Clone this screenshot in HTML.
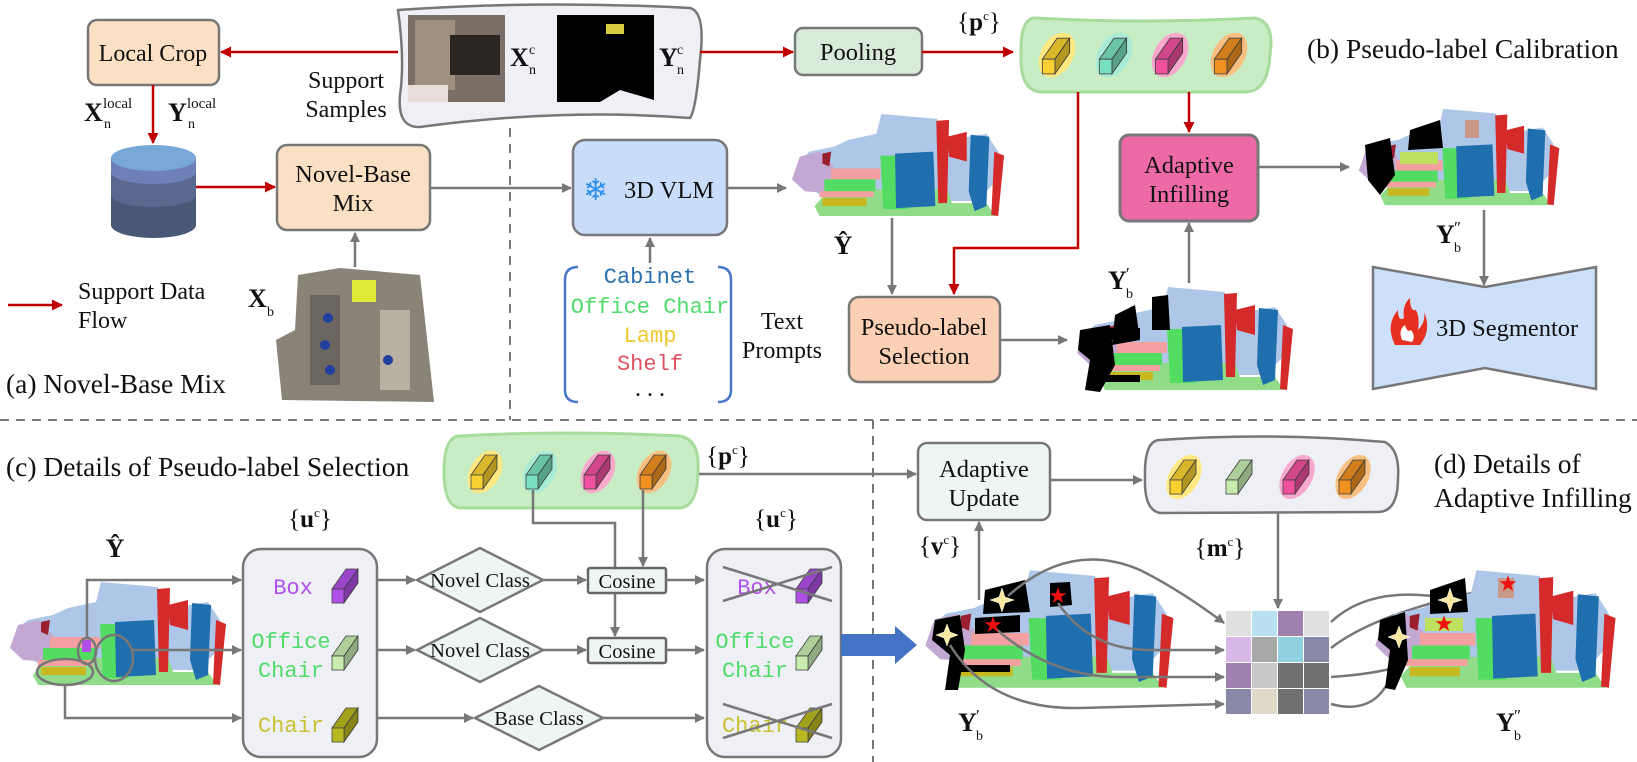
<!DOCTYPE html>
<html><head><meta charset="utf-8"><style>
html,body{margin:0;padding:0;background:#fff}
svg{display:block}
.s{font-family:"Liberation Serif",serif;fill:#111}
.m{font-family:"Liberation Mono",monospace}
</style></head><body>
<svg width="1637" height="762" viewBox="0 0 1637 762" xmlns="http://www.w3.org/2000/svg">
<defs>
<marker id="ag" markerWidth="10" markerHeight="10" refX="9" refY="5" orient="auto" markerUnits="userSpaceOnUse"><path d="M0,0 L10,5 L0,10 z" fill="#777"/></marker>
<marker id="ar" markerWidth="11" markerHeight="11" refX="10" refY="5.5" orient="auto" markerUnits="userSpaceOnUse"><path d="M0,0 L11,5.5 L0,11 z" fill="#c00000"/></marker>
<symbol id="cube" viewBox="0 0 30 40">
<path d="M2,24 L14,24 L28,4 L16,4 Z" fill="currentColor" stroke="#444" stroke-width="0.8"/>
<path d="M2,24 L14,24 L28,4 L16,4 Z" fill="#000" opacity="0.12"/>
<path d="M14,24 L28,4 L28,18 L14,38 Z" fill="currentColor" stroke="#444" stroke-width="0.8"/>
<path d="M14,24 L28,4 L28,18 L14,38 Z" fill="#000" opacity="0.28"/>
<rect x="2" y="24" width="12" height="14" fill="currentColor" stroke="#444" stroke-width="0.8"/>
</symbol>
<symbol id="scene" viewBox="0 0 222 107" preserveAspectRatio="none">
<polygon points="8,50 20,40 45,35 60,28 88,22 93,2 150,7 152,30 200,22 212,40 210,70 190,90 40,90 10,70" fill="#aec6e8"/>
<polygon points="2,68 10,45 30,40 45,55 42,82 15,80" fill="#c4a8d4"/>
<polygon points="33,42 42,40 40,55 33,52" fill="#9a2030"/>
<polygon points="25,95 40,78 160,78 165,92 200,92 209,105 30,105" fill="#90dc88"/>
<rect x="42" y="57" width="50" height="11" fill="#f4a0a0"/>
<rect x="35" y="68" width="52" height="12" fill="#52dc62"/>
<rect x="30" y="80" width="55" height="6" fill="#f4a0a0"/>
<polygon points="92,44 108,44 110,78 125,76 120,98 95,98" fill="#52dc62"/>
<polygon points="107,42 146,40 148,95 108,97" fill="#1f6eae"/>
<polygon points="149,9 162,8 160,92 151,92" fill="#d42a2a"/>
<polygon points="160,25 180,20 180,50 162,45" fill="#d42a2a"/>
<polygon points="184,23 203,25 200,95 188,100 182,80" fill="#1f6eae"/>
<polygon points="208,40 218,44 212,105 205,104" fill="#d42a2a"/>
<rect x="33" y="87" width="45" height="8" fill="#c8b820"/>
</symbol>
</defs>

<!-- ===== (a) ===== -->
<rect x="88" y="20" width="131" height="65" rx="9" fill="#fce0c4" stroke="#777" stroke-width="2.5"/>
<text class="s" x="153" y="61" font-size="24" text-anchor="middle">Local Crop</text>

<path d="M398,10 Q540,0 690,8 Q706,12 700,60 Q696,110 690,118 Q560,108 420,127 Q397,128 400,95 Q405,60 398,10 Z" fill="#eef0f6" stroke="#777" stroke-width="2.5"/>
<rect x="408" y="15" width="97" height="87" fill="#7a7068"/>
<rect x="415" y="20" width="40" height="70" fill="#a09080"/>
<rect x="450" y="35" width="50" height="40" fill="#2a2622"/>
<rect x="408" y="85" width="40" height="17" fill="#e8e0d8"/>
<path d="M557,15 L654,15 L654,100 L620,90 L600,102 L557,102 Z" fill="#000"/>
<rect x="606" y="24" width="18" height="10" fill="#d8cc40"/>
<text class="s" x="510" y="66" font-size="26" font-weight="bold">X</text><text class="s" x="529" y="54" font-size="14">c</text><text class="s" x="529" y="74" font-size="14">n</text>
<text class="s" x="659" y="66" font-size="26" font-weight="bold">Y</text><text class="s" x="677" y="54" font-size="14">c</text><text class="s" x="677" y="74" font-size="14">n</text>
<text class="s" x="346" y="88" font-size="24" text-anchor="middle">Support</text>
<text class="s" x="346" y="117" font-size="24" text-anchor="middle">Samples</text>

<line x1="398" y1="52" x2="221" y2="52" stroke="#c00000" stroke-width="2.5" marker-end="url(#ar)"/>
<line x1="700" y1="52" x2="793" y2="52" stroke="#c00000" stroke-width="2.5" marker-end="url(#ar)"/>
<line x1="153" y1="85" x2="153" y2="143" stroke="#c00000" stroke-width="2.5" marker-end="url(#ar)"/>
<text class="s" x="84" y="121" font-size="26" font-weight="bold">X</text><text class="s" x="103" y="108" font-size="15">local</text><text class="s" x="104" y="128" font-size="14">n</text>
<text class="s" x="168" y="121" font-size="26" font-weight="bold">Y</text><text class="s" x="187" y="108" font-size="15">local</text><text class="s" x="188" y="128" font-size="14">n</text>

<!-- cylinder -->
<rect x="111" y="195" width="85" height="30" fill="#4a5878"/>
<ellipse cx="153.5" cy="225" rx="42.5" ry="13" fill="#4a5878"/>
<rect x="111" y="172" width="85" height="23" fill="#5a6890"/>
<ellipse cx="153.5" cy="195" rx="42.5" ry="12" fill="#5a6890"/>
<rect x="111" y="158" width="85" height="14" fill="#6e80b8"/>
<ellipse cx="153.5" cy="172" rx="42.5" ry="12" fill="#6e80b8"/>
<ellipse cx="153.5" cy="158" rx="42.5" ry="13" fill="#78a8d8"/>

<line x1="196" y1="187" x2="275" y2="187" stroke="#c00000" stroke-width="2.5" marker-end="url(#ar)"/>
<rect x="277" y="145" width="153" height="85" rx="10" fill="#fce0c4" stroke="#777" stroke-width="2.5"/>
<text class="s" x="353" y="182" font-size="24.5" text-anchor="middle">Novel-Base</text>
<text class="s" x="353" y="211" font-size="24.5" text-anchor="middle">Mix</text>
<line x1="430" y1="188" x2="571" y2="188" stroke="#777" stroke-width="2.5" marker-end="url(#ag)"/>

<rect x="573" y="140" width="154" height="95" rx="12" fill="#c8ddfa" stroke="#777" stroke-width="2.5"/>
<text x="583" y="200" font-size="30" fill="#2f8fe8" font-family="DejaVu Sans,sans-serif">❄</text>
<text class="s" x="624" y="198" font-size="24.5">3D VLM</text>
<line x1="727" y1="188" x2="786" y2="188" stroke="#777" stroke-width="2.5" marker-end="url(#ag)"/>
<line x1="650" y1="263" x2="650" y2="238" stroke="#777" stroke-width="2.5" marker-end="url(#ag)"/>

<path d="M578,267 Q565,267 565,280 L565,390 Q565,402 578,402" fill="none" stroke="#4a78c8" stroke-width="2.5"/>
<path d="M718,267 Q731,267 731,280 L731,390 Q731,402 718,402" fill="none" stroke="#4a78c8" stroke-width="2.5"/>
<text class="m" x="650" y="283" font-size="22" fill="#2a70b0" text-anchor="middle">Cabinet</text>
<text class="m" x="650" y="313" font-size="22" fill="#50dc6a" text-anchor="middle">Office Chair</text>
<text class="m" x="650" y="342" font-size="22" fill="#f0c830" text-anchor="middle">Lamp</text>
<text class="m" x="650" y="370" font-size="22" fill="#e05060" text-anchor="middle">Shelf</text>
<text class="s" x="650" y="396" font-size="24" text-anchor="middle">. . .</text>
<text class="s" x="782" y="329" font-size="24" text-anchor="middle">Text</text>
<text class="s" x="782" y="358" font-size="24" text-anchor="middle">Prompts</text>

<line x1="8" y1="305" x2="62" y2="305" stroke="#c00000" stroke-width="2.5" marker-end="url(#ar)"/>
<text class="s" x="78" y="299" font-size="24">Support Data</text>
<text class="s" x="78" y="328" font-size="24">Flow</text>
<text class="s" x="248" y="307" font-size="26" font-weight="bold">X</text><text class="s" x="267" y="316" font-size="14">b</text>
<!-- Xb photo -->
<path d="M298,275 L340,268 L420,275 L425,320 L434,402 L282,400 L276,340 L295,330 Z" fill="#8a8478"/>
<rect x="352" y="280" width="24" height="22" fill="#e0e838"/>
<rect x="310" y="295" width="30" height="90" fill="#6c6660"/>
<rect x="380" y="310" width="30" height="80" fill="#b8b0a0"/>
<circle cx="328" cy="318" r="5" fill="#2040a0"/><circle cx="325" cy="345" r="5" fill="#2040a0"/><circle cx="330" cy="370" r="5" fill="#2040a0"/><circle cx="388" cy="360" r="5" fill="#2040a0"/>
<line x1="355" y1="267" x2="355" y2="233" stroke="#777" stroke-width="2.5" marker-end="url(#ag)"/>
<text class="s" x="6" y="393" font-size="27.5">(a) Novel-Base Mix</text>

<!-- dividers -->
<line x1="510" y1="128" x2="510" y2="420" stroke="#777" stroke-width="2" stroke-dasharray="9,7"/>
<line x1="0" y1="420" x2="1637" y2="420" stroke="#777" stroke-width="2" stroke-dasharray="9,7"/>
<line x1="873" y1="420" x2="873" y2="762" stroke="#777" stroke-width="2" stroke-dasharray="9,7"/>

<!-- ===== (b) ===== -->
<rect x="795" y="28" width="127" height="47" rx="8" fill="#d8ead8" stroke="#777" stroke-width="2.5"/>
<text class="s" x="858" y="60" font-size="24.5" text-anchor="middle">Pooling</text>
<line x1="922" y1="52" x2="1013" y2="52" stroke="#c00000" stroke-width="2.5" marker-end="url(#ar)"/>
<text class="s" x="979" y="30" font-size="25" text-anchor="middle">{<tspan font-weight="bold">p</tspan><tspan font-size="13" dy="-10">c</tspan><tspan dy="10">}</tspan></text>
<path d="M1035,18 Q1140,24 1255,18 Q1275,22 1270,55 Q1268,92 1245,92 L1040,92 Q1020,90 1021,55 Q1020,18 1035,18 Z" fill="#c8ecc4" stroke="#a8dc9c" stroke-width="3"/>
<ellipse cx="1057" cy="55" rx="16" ry="24" transform="rotate(30 1057 55)" fill="#ffe880"/>
<ellipse cx="1114" cy="55" rx="16" ry="24" transform="rotate(30 1114 55)" fill="#a8ecd8"/>
<ellipse cx="1170" cy="55" rx="16" ry="24" transform="rotate(30 1170 55)" fill="#f8a8cc"/>
<ellipse cx="1229" cy="55" rx="16" ry="24" transform="rotate(30 1229 55)" fill="#f8c080"/>
<use href="#cube" x="1040" y="34" width="32" height="42" color="#f8d030"/>
<use href="#cube" x="1097" y="34" width="32" height="42" color="#78e0c0"/>
<use href="#cube" x="1153" y="34" width="32" height="42" color="#f050a0"/>
<use href="#cube" x="1212" y="34" width="32" height="42" color="#f09020"/>
<text class="s" x="1307" y="58" font-size="27.5">(b) Pseudo-label Calibration</text>

<line x1="1189" y1="92" x2="1189" y2="132" stroke="#c00000" stroke-width="2.5" marker-end="url(#ar)"/>
<polyline points="1078,92 1078,248 954,248 954,294" fill="none" stroke="#c00000" stroke-width="2.5" marker-end="url(#ar)"/>
<rect x="1120" y="135" width="138" height="86" rx="9" fill="#ee6aa7" stroke="#777" stroke-width="3"/>
<text class="s" x="1189" y="173" font-size="24.5" text-anchor="middle">Adaptive</text>
<text class="s" x="1189" y="202" font-size="24.5" text-anchor="middle">Infilling</text>
<line x1="1258" y1="167" x2="1349" y2="167" stroke="#777" stroke-width="2.5" marker-end="url(#ag)"/>

<use href="#scene" x="790" y="112" width="218" height="106"/>
<text class="s" x="843" y="254" font-size="26" font-weight="bold" text-anchor="middle">Ŷ</text>
<line x1="892" y1="218" x2="892" y2="294" stroke="#777" stroke-width="2.5" marker-end="url(#ag)"/>
<rect x="849" y="297" width="151" height="85" rx="10" fill="#fcd0b4" stroke="#777" stroke-width="2.5"/>
<text class="s" x="924" y="335" font-size="24.5" text-anchor="middle">Pseudo-label</text>
<text class="s" x="924" y="364" font-size="24.5" text-anchor="middle">Selection</text>
<line x1="1000" y1="340" x2="1067" y2="340" stroke="#777" stroke-width="2.5" marker-end="url(#ag)"/>

<use href="#scene" x="1075" y="285" width="222" height="107"/>
<path d="M1115,315 L1135,305 L1140,340 L1112,345 Z M1152,297 L1168,295 L1170,330 L1152,330 Z M1080,330 L1110,325 L1115,365 L1100,392 L1085,390 L1090,360 L1078,350 Z M1110,328 L1140,328 L1140,338 L1110,340 Z M1100,375 L1140,375 L1140,382 L1100,382 Z" fill="#000"/>
<text class="s" x="1108" y="289" font-size="26" font-weight="bold">Y</text><text class="s" x="1126" y="279" font-size="17">′</text><text class="s" x="1126" y="298" font-size="14">b</text>
<line x1="1189" y1="283" x2="1189" y2="223" stroke="#777" stroke-width="2.5" marker-end="url(#ag)"/>

<use href="#scene" x="1357" y="107" width="206" height="100"/>
<path d="M1410,130 L1440,120 L1443,148 L1408,150 Z M1365,145 L1390,138 L1395,175 L1380,195 L1368,180 Z" fill="#000"/>
<rect x="1465" y="120" width="14" height="18" fill="#c89888"/>
<rect x="1400" y="152" width="38" height="12" fill="#c0e060"/>
<text class="s" x="1436" y="243" font-size="26" font-weight="bold">Y</text><text class="s" x="1454" y="233" font-size="17">″</text><text class="s" x="1454" y="252" font-size="14">b</text>
<line x1="1484" y1="210" x2="1484" y2="285" stroke="#777" stroke-width="2.5" marker-end="url(#ag)"/>
<polygon points="1373,267 1485,287 1596,267 1596,389 1485,368 1373,389" fill="#cce0fa" stroke="#777" stroke-width="2.5"/>
<path d="M1395,345 Q1385,325 1398,310 Q1398,322 1404,318 Q1402,305 1410,298 Q1410,312 1416,310 Q1420,318 1418,330 Q1426,322 1424,312 Q1432,330 1420,345 Z" fill="#e83020"/>
<path d="M1402,340 Q1398,330 1405,325 Q1407,333 1411,330 Q1416,336 1412,342 Z" fill="#fff"/>
<text class="s" x="1436" y="336" font-size="24.5">3D Segmentor</text>

<!-- ===== (c) ===== -->
<text class="s" x="6" y="476" font-size="27.5">(c) Details of Pseudo-label Selection</text>
<path d="M460,436 Q560,430 680,436 Q700,440 698,470 Q698,506 680,508 L460,508 Q444,506 444,472 Q444,436 460,436 Z" fill="#c8ecc4" stroke="#a8dc9c" stroke-width="3"/>
<ellipse cx="485" cy="472" rx="15" ry="23" transform="rotate(30 485 472)" fill="#ffe880"/>
<ellipse cx="540" cy="472" rx="15" ry="23" transform="rotate(30 540 472)" fill="#a8ecd8"/>
<ellipse cx="598" cy="472" rx="15" ry="23" transform="rotate(30 598 472)" fill="#f8a8cc"/>
<ellipse cx="654" cy="472" rx="15" ry="23" transform="rotate(30 654 472)" fill="#f8c080"/>
<use href="#cube" x="469" y="451" width="30" height="40" color="#f8d030"/>
<use href="#cube" x="524" y="451" width="30" height="40" color="#78e0c0"/>
<use href="#cube" x="582" y="451" width="30" height="40" color="#f050a0"/>
<use href="#cube" x="638" y="451" width="30" height="40" color="#f09020"/>
<text class="s" x="728" y="464" font-size="25" text-anchor="middle">{<tspan font-weight="bold">p</tspan><tspan font-size="13" dy="-10">c</tspan><tspan dy="10">}</tspan></text>
<line x1="699" y1="474" x2="916" y2="474" stroke="#777" stroke-width="2.5" marker-end="url(#ag)"/>

<text class="s" x="310" y="527" font-size="25" text-anchor="middle">{<tspan font-weight="bold">u</tspan><tspan font-size="13" dy="-10">c</tspan><tspan dy="10">}</tspan></text>
<text class="s" x="776" y="527" font-size="25" text-anchor="middle">{<tspan font-weight="bold">u</tspan><tspan font-size="13" dy="-10">c</tspan><tspan dy="10">}</tspan></text>
<text class="s" x="115" y="557" font-size="26" font-weight="bold" text-anchor="middle">Ŷ</text>
<use href="#scene" x="8" y="580" width="222" height="107"/>
<rect x="82" y="640" width="9" height="12" fill="#b050e8"/>
<ellipse cx="87" cy="651" rx="9" ry="13" fill="none" stroke="#777" stroke-width="2.5"/>
<ellipse cx="114" cy="658" rx="19" ry="23" fill="none" stroke="#777" stroke-width="2.5"/>
<ellipse cx="65" cy="672" rx="28" ry="13" fill="none" stroke="#777" stroke-width="2.5"/>
<polyline points="87,638 87,580 241,580" fill="none" stroke="#777" stroke-width="2.5" marker-end="url(#ag)"/>
<line x1="133" y1="650" x2="241" y2="650" stroke="#777" stroke-width="2.5" marker-end="url(#ag)"/>
<polyline points="65,685 65,718 241,718" fill="none" stroke="#777" stroke-width="2.5" marker-end="url(#ag)"/>

<rect x="243" y="549" width="134" height="208" rx="18" fill="#eef0f6" stroke="#777" stroke-width="2.5"/>
<text class="m" x="293" y="594" font-size="22" fill="#b050e8" text-anchor="middle">Box</text>
<text class="m" x="291" y="648" font-size="22" fill="#50dc6a" text-anchor="middle">Office</text>
<text class="m" x="291" y="677" font-size="22" fill="#50dc6a" text-anchor="middle">Chair</text>
<text class="m" x="291" y="732" font-size="22" fill="#c8c030" text-anchor="middle">Chair</text>
<use href="#cube" x="330" y="565" width="30" height="40" color="#b050e8"/>
<use href="#cube" x="330" y="632" width="30" height="40" color="#c8ecb0"/>
<use href="#cube" x="330" y="704" width="30" height="40" color="#b8b820"/>

<line x1="377" y1="580" x2="415" y2="580" stroke="#777" stroke-width="2.5" marker-end="url(#ag)"/>
<line x1="377" y1="650" x2="415" y2="650" stroke="#777" stroke-width="2.5" marker-end="url(#ag)"/>
<line x1="377" y1="718" x2="473" y2="718" stroke="#777" stroke-width="2.5" marker-end="url(#ag)"/>
<polygon points="417,580 480,548 543,580 480,612" fill="#eef6f2" stroke="#777" stroke-width="2.5"/>
<polygon points="417,650 480,618 543,650 480,682" fill="#eef6f2" stroke="#777" stroke-width="2.5"/>
<polygon points="475,718 539,686 603,718 539,750" fill="#eef6f2" stroke="#777" stroke-width="2.5"/>
<text class="s" x="480" y="587" font-size="20.5" text-anchor="middle">Novel Class</text>
<text class="s" x="480" y="657" font-size="20.5" text-anchor="middle">Novel Class</text>
<text class="s" x="539" y="725" font-size="20.5" text-anchor="middle">Base Class</text>
<line x1="543" y1="580" x2="586" y2="580" stroke="#777" stroke-width="2.5" marker-end="url(#ag)"/>
<line x1="543" y1="650" x2="586" y2="650" stroke="#777" stroke-width="2.5" marker-end="url(#ag)"/>
<line x1="603" y1="718" x2="704" y2="718" stroke="#777" stroke-width="2.5" marker-end="url(#ag)"/>
<polyline points="533,490 533,523 615,523 615,636" fill="none" stroke="#777" stroke-width="2.5" marker-end="url(#ag)"/>
<line x1="643" y1="490" x2="643" y2="566" stroke="#777" stroke-width="2.5" marker-end="url(#ag)"/>
<rect x="588" y="568" width="78" height="25" rx="2" fill="#eef6f2" stroke="#666" stroke-width="2.5"/>
<rect x="588" y="638" width="78" height="25" rx="2" fill="#eef6f2" stroke="#666" stroke-width="2.5"/>
<text class="s" x="627" y="588" font-size="20.5" text-anchor="middle">Cosine</text>
<text class="s" x="627" y="658" font-size="20.5" text-anchor="middle">Cosine</text>
<line x1="666" y1="580" x2="704" y2="580" stroke="#777" stroke-width="2.5" marker-end="url(#ag)"/>
<line x1="666" y1="650" x2="704" y2="650" stroke="#777" stroke-width="2.5" marker-end="url(#ag)"/>

<rect x="707" y="549" width="134" height="208" rx="18" fill="#eef0f6" stroke="#777" stroke-width="2.5"/>
<text class="m" x="757" y="594" font-size="22" fill="#b050e8" text-anchor="middle">Box</text>
<text class="m" x="755" y="648" font-size="22" fill="#50dc6a" text-anchor="middle">Office</text>
<text class="m" x="755" y="677" font-size="22" fill="#50dc6a" text-anchor="middle">Chair</text>
<text class="m" x="755" y="732" font-size="22" fill="#c8c030" text-anchor="middle">Chair</text>
<use href="#cube" x="794" y="565" width="30" height="40" color="#b050e8"/>
<use href="#cube" x="794" y="632" width="30" height="40" color="#c8ecb0"/>
<use href="#cube" x="794" y="704" width="30" height="40" color="#b8b820"/>
<line x1="723" y1="567" x2="832" y2="601" stroke="#777" stroke-width="2.5"/>
<line x1="723" y1="601" x2="832" y2="567" stroke="#777" stroke-width="2.5"/>
<line x1="723" y1="704" x2="832" y2="738" stroke="#777" stroke-width="2.5"/>
<line x1="723" y1="738" x2="832" y2="704" stroke="#777" stroke-width="2.5"/>
<polygon points="841,634 895,634 895,626 917,645 895,664 895,656 841,656" fill="#4472c4"/>

<!-- ===== (d) ===== -->
<rect x="918" y="443" width="132" height="77" rx="9" fill="#eef6f2" stroke="#777" stroke-width="2.5"/>
<text class="s" x="984" y="477" font-size="24.5" text-anchor="middle">Adaptive</text>
<text class="s" x="984" y="506" font-size="24.5" text-anchor="middle">Update</text>
<line x1="1050" y1="480" x2="1142" y2="480" stroke="#777" stroke-width="2.5" marker-end="url(#ag)"/>
<path d="M1160,440 Q1270,432 1385,442 Q1400,450 1398,478 Q1398,512 1378,512 L1160,513 Q1144,510 1145,478 Q1144,440 1160,440 Z" fill="#eef0f6" stroke="#777" stroke-width="2.5"/>
<ellipse cx="1184" cy="477" rx="15" ry="24" transform="rotate(30 1184 477)" fill="#ffe880"/>
<ellipse cx="1297" cy="477" rx="15" ry="24" transform="rotate(30 1297 477)" fill="#f8a8cc"/>
<ellipse cx="1353" cy="477" rx="15" ry="24" transform="rotate(30 1353 477)" fill="#f8c080"/>
<use href="#cube" x="1168" y="456" width="30" height="40" color="#f8d030"/>
<use href="#cube" x="1224" y="456" width="30" height="40" color="#c8ecb0"/>
<use href="#cube" x="1281" y="456" width="30" height="40" color="#f050a0"/>
<use href="#cube" x="1337" y="456" width="30" height="40" color="#f09020"/>
<text class="s" x="1434" y="473" font-size="27.5">(d) Details of</text>
<text class="s" x="1434" y="507" font-size="27.5">Adaptive Infilling</text>

<text class="s" x="940" y="554" font-size="25" text-anchor="middle">{<tspan font-weight="bold">v</tspan><tspan font-size="13" dy="-10">c</tspan><tspan dy="10">}</tspan></text>
<line x1="979" y1="600" x2="979" y2="522" stroke="#777" stroke-width="2.5" marker-end="url(#ag)"/>
<text class="s" x="1220" y="556" font-size="25" text-anchor="middle">{<tspan font-weight="bold">m</tspan><tspan font-size="13" dy="-10">c</tspan><tspan dy="10">}</tspan></text>
<line x1="1278" y1="513" x2="1278" y2="608" stroke="#777" stroke-width="2.5" marker-end="url(#ag)"/>

<use href="#scene" x="923" y="568" width="255" height="122"/>
<path d="M985,590 L1025,580 L1030,612 L983,614 Z M1050,583 L1070,582 L1072,605 L1050,607 Z M975,618 L1020,615 L1020,632 L975,634 Z M935,620 L960,615 L965,650 L958,690 L945,690 L950,655 L932,640 Z M960,665 L1010,665 L1010,672 L960,672 Z" fill="#000"/>
<text class="s" x="958" y="731" font-size="26" font-weight="bold">Y</text><text class="s" x="976" y="721" font-size="17">′</text><text class="s" x="976" y="740" font-size="14">b</text>

<g fill="#e0e0e0">
<rect x="1226" y="611" width="25" height="25"/><rect x="1252" y="611" width="25" height="25" fill="#b8e0f0"/><rect x="1278" y="611" width="25" height="25" fill="#a080b0"/><rect x="1304" y="611" width="25" height="25"/>
<rect x="1226" y="637" width="25" height="25" fill="#d8b8e8"/><rect x="1252" y="637" width="25" height="25" fill="#a8a8a8"/><rect x="1278" y="637" width="25" height="25" fill="#90d0e0"/><rect x="1304" y="637" width="25" height="25" fill="#8888a8"/>
<rect x="1226" y="663" width="25" height="25" fill="#a080b0"/><rect x="1252" y="663" width="25" height="25" fill="#c8c8c8"/><rect x="1278" y="663" width="25" height="25" fill="#707070"/><rect x="1304" y="663" width="25" height="25" fill="#707070"/>
<rect x="1226" y="689" width="25" height="25" fill="#8888a8"/><rect x="1252" y="689" width="25" height="25" fill="#e0d8c8"/><rect x="1278" y="689" width="25" height="25" fill="#707070"/><rect x="1304" y="689" width="25" height="25" fill="#8888a8"/>
</g>
<g fill="none" stroke="#777" stroke-width="2.5">
<path d="M1008,596 Q1070,540 1140,570 Q1180,590 1224,623" marker-end="url(#ag)"/>
<path d="M1058,603 Q1090,650 1150,650 L1224,650" marker-end="url(#ag)"/>
<path d="M995,628 Q1050,677 1120,677 L1224,677" marker-end="url(#ag)"/>
<path d="M950,645 Q990,710 1080,708 L1224,704" marker-end="url(#ag)"/>
<path d="M1331,622 Q1370,585 1446,598" marker-end="url(#ag)"/>
<path d="M1331,648 Q1380,610 1505,586" marker-end="url(#ag)"/>
<path d="M1331,677 Q1440,670 1444,628" marker-end="url(#ag)"/>
<path d="M1331,704 Q1390,720 1399,642" marker-end="url(#ag)"/>
</g>
<use href="#scene" x="1373" y="568" width="247" height="122"/>
<path d="M1430,590 L1465,578 L1468,612 L1430,614 Z M1380,620 L1405,612 L1408,660 L1395,690 L1385,688 L1390,650 L1378,640 Z" fill="#000"/>
<rect x="1498" y="578" width="16" height="20" fill="#c89888"/>
<rect x="1425" y="618" width="38" height="13" fill="#c0e060"/>
<text class="s" x="1496" y="731" font-size="26" font-weight="bold">Y</text><text class="s" x="1514" y="721" font-size="17">″</text><text class="s" x="1514" y="740" font-size="14">b</text>

<g fill="#f8e8a0" stroke="#fff" stroke-width="0.5">
<path d="M1002,588 L1005,597 L1014,600 L1005,603 L1002,612 L999,603 L990,600 L999,597 Z"/>
<path d="M947,624 L950,632 L958,635 L950,638 L947,646 L944,638 L936,635 L944,632 Z"/>
<path d="M1450,588 L1453,597 L1462,600 L1453,603 L1450,612 L1447,603 L1438,600 L1447,597 Z"/>
<path d="M1399,626 L1402,634 L1410,637 L1402,640 L1399,648 L1396,640 L1388,637 L1396,634 Z"/>
</g>
<g fill="#f01010" font-family="DejaVu Sans,sans-serif" font-size="22" text-anchor="middle">
<text x="1058" y="603">★</text><text x="993" y="632">★</text><text x="1508" y="591">★</text><text x="1444" y="631">★</text>
</g>
</svg>
</body></html>
